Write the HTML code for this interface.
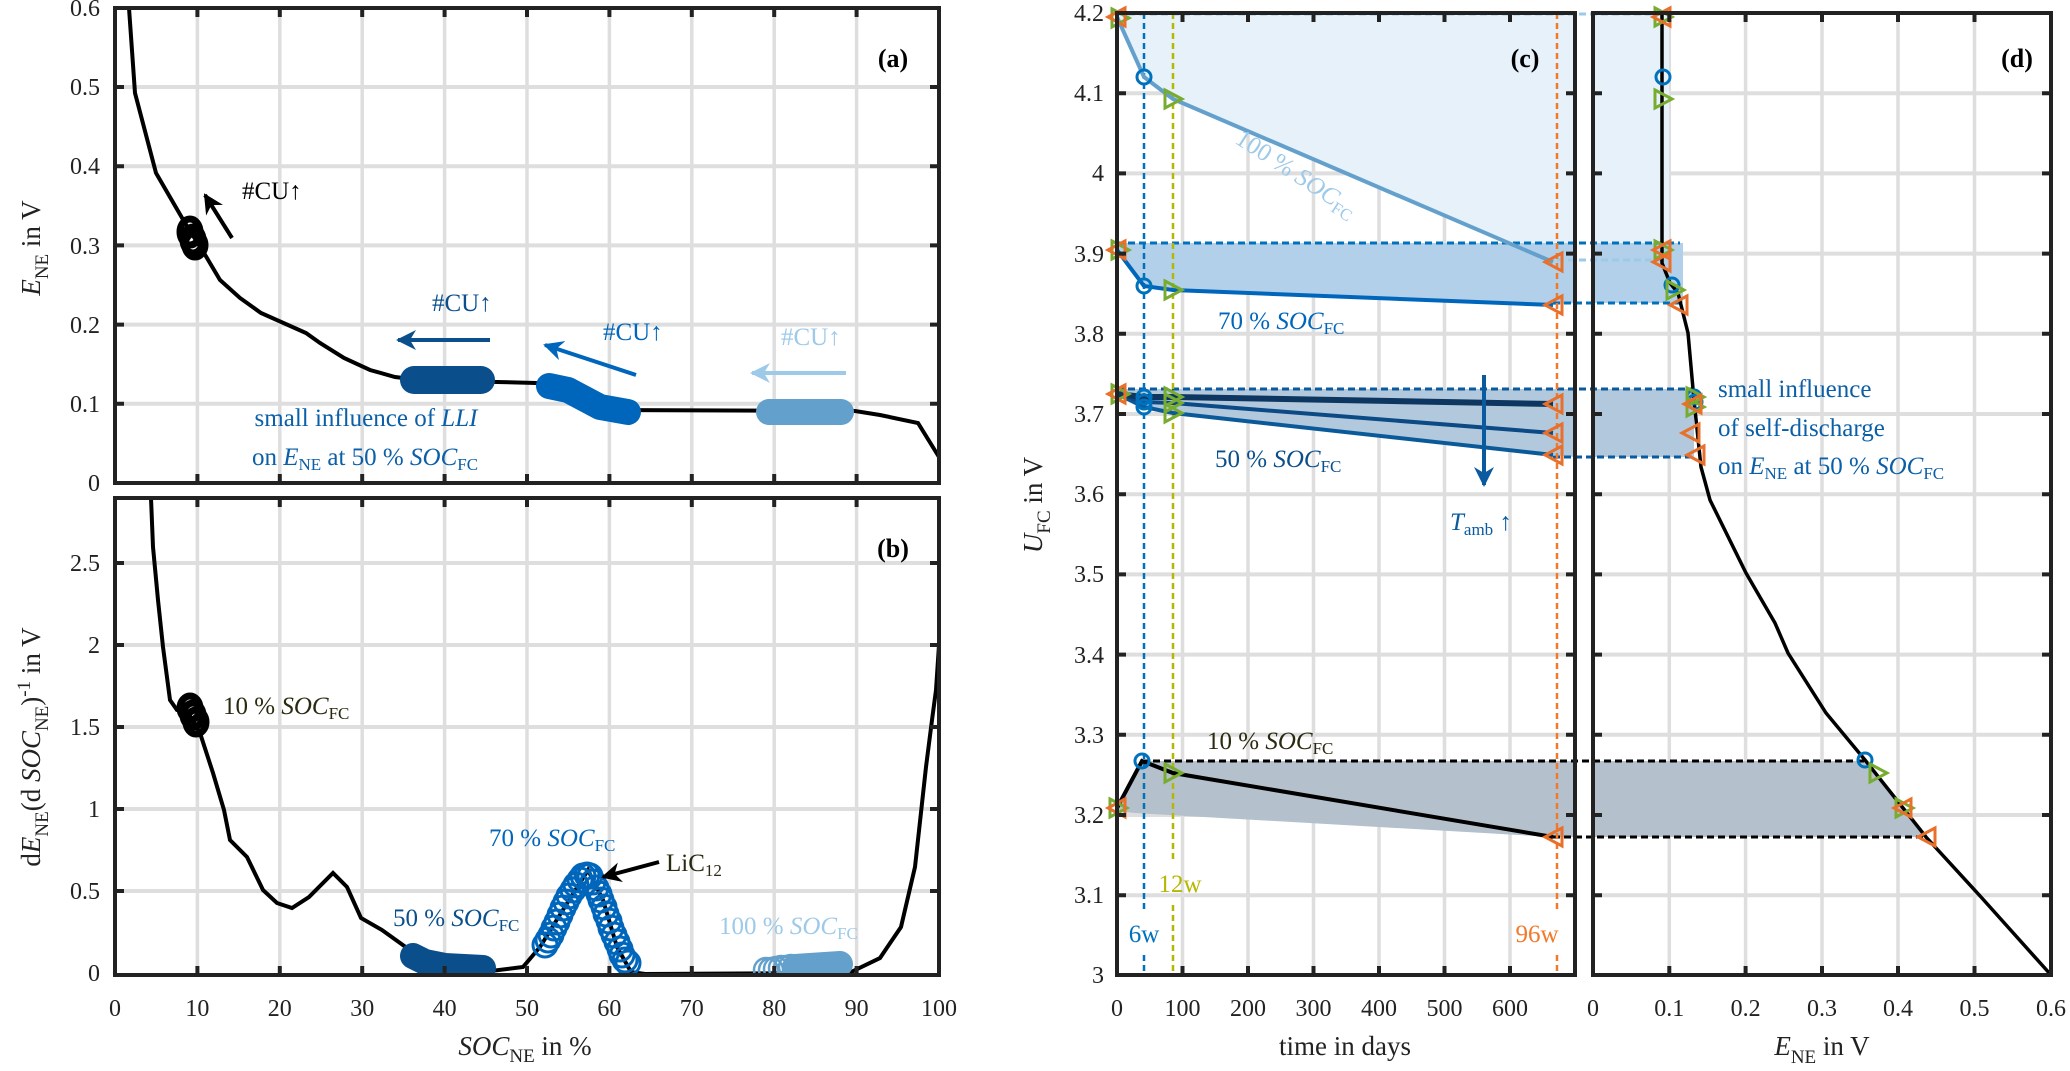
<!DOCTYPE html>
<html><head><meta charset="utf-8"><style>
html,body{margin:0;padding:0;background:#fff;}
svg{display:block;}
text{font-family:"Liberation Serif",serif;}
</style></head><body>
<svg width="2070" height="1071" viewBox="0 0 2070 1071" xmlns="http://www.w3.org/2000/svg">
<defs>
<clipPath id="ca"><rect x="115" y="8" width="824" height="475"/></clipPath>
<clipPath id="cb"><rect x="115" y="498" width="824" height="477"/></clipPath>
<marker id="ah" viewBox="0 0 10 10" refX="9" refY="5" markerWidth="5" markerHeight="5" orient="auto"><path d="M0,0 L10,5 L0,10 L3,5 z" fill="context-stroke"/></marker>
</defs>

<!-- ===== grids ===== -->
<g stroke="#dedede" stroke-width="4">
<path d="M197.4,8V483M279.8,8V483M362.2,8V483M444.6,8V483M527,8V483M609.4,8V483M691.8,8V483M774.2,8V483M856.6,8V483" stroke-width="3.5"/>
<path d="M115,403.8H939M115,324.6H939M115,245.4H939M115,166.2H939M115,87H939"/>
<path d="M197.4,498V975M279.8,498V975M362.2,498V975M444.6,498V975M527,498V975M609.4,498V975M691.8,498V975M774.2,498V975M856.6,498V975" stroke-width="3.5"/>
<path d="M115,891H939M115,809H939M115,727H939M115,645H939M115,563H939"/>
<path d="M1182.5,13V975M1248,13V975M1313.5,13V975M1379,13V975M1444.5,13V975M1510,13V975" stroke-width="3.5"/>
<path d="M1117,93.2H1575M1117,173.4H1575M1117,253.6H1575M1117,333.8H1575M1117,414H1575M1117,494.2H1575M1117,574.4H1575M1117,654.6H1575M1117,734.8H1575M1117,815H1575M1117,895.2H1575"/>
<path d="M1669.3,13V975M1745.6,13V975M1822,13V975M1898,13V975M1974.5,13V975" stroke-width="3.5"/>
<path d="M1593,93.2H2051M1593,173.4H2051M1593,253.6H2051M1593,333.8H2051M1593,414H2051M1593,494.2H2051M1593,574.4H2051M1593,654.6H2051M1593,734.8H2051M1593,815H2051M1593,895.2H2051"/>
</g>

<!-- ===== panel (a) ===== -->
<g clip-path="url(#ca)">
<polyline fill="none" stroke="#000" stroke-width="4" points="129,8 135,93 156,173 185,223 204,253 220,280 240,298 261,313 306,333 320,343 344,358 370,370 395,377 420,380 497,382 536,383 560,390 590,403 612,410 855,411 880,415 918,423 939,457"/>
<g fill="none" stroke="#000" stroke-width="7">
<ellipse cx="190" cy="232" rx="10" ry="13"/><ellipse cx="193" cy="240" rx="10" ry="13"/><ellipse cx="195" cy="245" rx="10" ry="12"/>
</g>
<rect x="400" y="366" width="95" height="28" rx="14" fill="#0a4f8c"/>
<polyline fill="none" stroke="#0066bb" stroke-width="26" stroke-linecap="round" stroke-linejoin="round" points="549,386 568,390 600,407 628,412"/>
<rect x="756" y="399" width="98" height="26" rx="13" fill="#64a0cc"/>
<g fill="none" stroke="#64a0cc" stroke-width="2"><circle cx="770" cy="412" r="12"/><circle cx="776" cy="412" r="12"/><circle cx="782" cy="412" r="12"/></g>
<g stroke-width="4" fill="none">
<line x1="232" y1="238" x2="205" y2="195" stroke="#000" marker-end="url(#ah)"/>
<line x1="490" y1="340" x2="398" y2="340" stroke="#0a4f8c" marker-end="url(#ah)"/>
<line x1="636" y1="375" x2="545" y2="345" stroke="#0066bb" marker-end="url(#ah)"/>
<line x1="846" y1="373" x2="752" y2="373" stroke="#9ecae9" marker-end="url(#ah)"/>
</g>
</g>
<g font-size="25">
<text x="242" y="199" fill="#000">#CU↑</text>
<text x="432" y="311" fill="#0a4f8c">#CU↑</text>
<text x="603" y="340" fill="#0066bb">#CU↑</text>
<text x="781" y="345" fill="#9ecae9">#CU↑</text>
<text x="366" y="426" text-anchor="middle" fill="#0a5fa8">small influence of <tspan font-style="italic">LLI</tspan></text>
<text x="365" y="465" text-anchor="middle" fill="#0a5fa8">on <tspan font-style="italic">E</tspan><tspan font-size="17" dy="5">NE</tspan><tspan dy="-5"> at 50 % </tspan><tspan font-style="italic">SOC</tspan><tspan font-size="17" dy="5">FC</tspan></text>
<text x="893" y="67" text-anchor="middle" font-weight="bold" font-size="26">(a)</text>
</g>

<!-- ===== panel (b) ===== -->
<g clip-path="url(#cb)">
<polyline fill="none" stroke="#000" stroke-width="4" points="151,498 153,547 158,600 163,647 170,700 177,710 188,713 200,733 213,773 224,810 230,840 247,857 263,890 277,903 292,908 309,897 333,873 347,887 361,918 382,930 414,953 449,968 491,971 523,967 540,947 561,913 588,870 603,900 617,947 631,972 645,974 849,973 880,958 901,927 915,867 926,767 932,720 936,690 939,645"/>
<g fill="none" stroke="#000" stroke-width="7">
<ellipse cx="190" cy="708" rx="10" ry="12"/><ellipse cx="193" cy="715" rx="10" ry="12"/><ellipse cx="196" cy="722" rx="10" ry="12"/>
</g>
<polyline fill="none" stroke="#0a4f8c" stroke-width="26" stroke-linecap="round" stroke-linejoin="round" points="413,956 425,962 445,966 483,968"/>
<g fill="none" stroke="#0066bb" stroke-width="3">
<circle cx="545" cy="945" r="12"/><circle cx="548" cy="940" r="12"/><circle cx="551" cy="935" r="12"/><circle cx="554" cy="928" r="12"/><circle cx="557" cy="922" r="12"/><circle cx="560" cy="915" r="12"/><circle cx="563" cy="908" r="12"/><circle cx="566" cy="902" r="12"/><circle cx="569" cy="896" r="12"/><circle cx="573" cy="890" r="12"/><circle cx="576" cy="885" r="12"/><circle cx="580" cy="880" r="12"/><circle cx="583" cy="876" r="12"/><circle cx="587" cy="875" r="12"/><circle cx="590" cy="876" r="12"/><circle cx="593" cy="882" r="12"/><circle cx="596" cy="888" r="12"/><circle cx="599" cy="894" r="12"/><circle cx="601" cy="900" r="12"/><circle cx="604" cy="907" r="12"/><circle cx="606" cy="914" r="12"/><circle cx="609" cy="921" r="12"/><circle cx="611" cy="928" r="12"/><circle cx="614" cy="935" r="12"/><circle cx="617" cy="942" r="12"/><circle cx="620" cy="949" r="12"/><circle cx="622" cy="955" r="12"/><circle cx="625" cy="960" r="12"/><circle cx="628" cy="963" r="12"/>
</g>
<polyline fill="none" stroke="#64a0cc" stroke-width="26" stroke-linecap="round" points="795,967 840,964"/>
<g fill="none" stroke="#64a0cc" stroke-width="2.5">
<circle cx="766" cy="970" r="12"/><circle cx="771" cy="970" r="12"/><circle cx="776" cy="969" r="12"/><circle cx="781" cy="968" r="12"/><circle cx="786" cy="968" r="12"/><circle cx="791" cy="967" r="12"/>
</g>
<line x1="659" y1="862" x2="603" y2="877" stroke="#000" stroke-width="4" marker-end="url(#ah)"/>
</g>
<g font-size="25">
<text x="223" y="714" fill="#2a2a10">10 % <tspan font-style="italic">SOC</tspan><tspan font-size="17" dy="5">FC</tspan></text>
<text x="489" y="846" fill="#0066bb">70 % <tspan font-style="italic">SOC</tspan><tspan font-size="17" dy="5">FC</tspan></text>
<text x="666" y="871" fill="#2a2a10">LiC<tspan font-size="17" dy="5">12</tspan></text>
<text x="393" y="926" fill="#0a4f8c">50 % <tspan font-style="italic">SOC</tspan><tspan font-size="17" dy="5">FC</tspan></text>
<text x="719" y="934" fill="#9ecae9">100 % <tspan font-style="italic">SOC</tspan><tspan font-size="17" dy="5">FC</tspan></text>
<text x="893" y="557" text-anchor="middle" font-weight="bold" font-size="26">(b)</text>
</g>

<!-- ===== panel (c) fills ===== -->
<polygon fill="#e6f1fa" points="1117,13 1575,13 1575,262 1557,262 1173,99 1144,77 1117,17"/>
<rect x="1593" y="13" width="76" height="246" fill="#e6f1fa"/>
<polygon fill="#b3d0ea" points="1117,243 1575,243 1575,303 1553,305 1173,290 1144,286 1117,250"/>
<rect x="1593" y="243" width="90" height="60" fill="#b3d0ea"/>
<polygon fill="#b2c9dd" points="1117,389 1575,389 1575,457 1553,455 1173,413 1144,407 1117,396"/>
<rect x="1593" y="389" width="101" height="68" fill="#b2c9dd"/>
<polygon fill="#b4c1cc" points="1117,808 1142,761 1575,761 1575,837 1553,837 1117,812"/>
<polygon fill="#b4c1cc" points="1593,761 1865,761 1926,837 1593,837"/>

<g fill="none" stroke-width="3" stroke-dasharray="7,4">
<path d="M1117,14H1669" stroke="#9ecae9"/>
<path d="M1557,260H1662" stroke="#9ecae9"/>
<path d="M1117,243H1680M1553,303H1682" stroke="#0072bd"/>
<path d="M1117,389H1694M1553,457H1696" stroke="#0a5aa0"/>
<path d="M1142,761H1865M1553,837H1926" stroke="#000"/>
</g>
<g fill="none" stroke-width="2.5" stroke-dasharray="6,4">
<path d="M1144,13V912M1144,955V975" stroke="#0072bd"/>
<path d="M1173,13V862M1173,905V975" stroke="#b5b800"/>
<path d="M1557,13V912M1557,955V975" stroke="#f07a2a"/>
</g>

<g fill="none" stroke-width="4">
<polyline points="1117,17 1144,77 1173,99 1553,262" stroke="#64a0cc"/>
<polyline points="1117,250 1144,286 1173,290 1553,305" stroke="#0066bb"/>
<polyline points="1117,394 1144,407 1173,413 1553,455" stroke="#0a5a9a"/>
<polyline points="1117,394 1144,402 1173,403 1553,433" stroke="#0b4a85"/>
<polyline points="1117,394 1144,397 1173,397 1553,404" stroke="#0d3760" stroke-width="6"/>
<polyline points="1117,808 1142,761 1173,773 1553,837" stroke="#000"/>
<polyline points="1662,13 1662,263 1670,283 1678,293 1688,333 1694,400 1701,467 1710,500 1746,573 1775,623 1788,653 1826,713 1865,760 1926,837 1981,897 2051,975" stroke="#000" stroke-width="3.5"/>
</g>
<line x1="1484" y1="375" x2="1484" y2="485" stroke="#0a5aa0" stroke-width="4" marker-end="url(#ah)"/>

<g fill="none" stroke-width="3">
<g stroke="#0072bd">
<circle cx="1144" cy="77" r="7"/><circle cx="1144" cy="286" r="7"/><circle cx="1144" cy="397" r="7"/><circle cx="1144" cy="402" r="7"/><circle cx="1144" cy="407" r="7"/><circle cx="1142" cy="761" r="7"/>
<circle cx="1663" cy="77" r="7"/><circle cx="1672" cy="285" r="7"/><circle cx="1694" cy="397" r="7"/><circle cx="1695" cy="402" r="7"/><circle cx="1865" cy="760" r="7"/>
</g>
<g stroke="#77ac30">
<path d="M1165,90 L1182,99 L1165,108Z M1165,281 L1182,290 L1165,299Z M1165,388 L1182,397 L1165,406Z M1165,394 L1182,403 L1165,412Z M1165,404 L1182,413 L1165,422Z M1165,764 L1182,773 L1165,782Z"/>
<path d="M1112,9 L1129,18 L1112,27Z M1112,241 L1129,250 L1112,259Z M1112,385 L1129,394 L1112,403Z M1110,799 L1127,808 L1110,817Z"/>
<path d="M1655,8 L1672,17 L1655,26Z M1655,90 L1672,99 L1655,108Z M1655,241 L1672,250 L1655,259Z M1667,281 L1684,290 L1667,299Z M1687,388 L1704,397 L1687,406Z M1687,398 L1704,407 L1687,416Z M1870,764 L1887,773 L1870,782Z M1896,799 L1913,808 L1896,817Z"/>
</g>
<g stroke="#e8702a">
<path d="M1125,8 L1108,17 L1125,26Z M1125,241 L1108,250 L1125,259Z M1125,385 L1108,394 L1125,403Z M1125,799 L1108,808 L1125,817Z"/>
<path d="M1562,253 L1545,262 L1562,271Z M1562,296 L1545,305 L1562,314Z M1562,395 L1545,404 L1562,413Z M1562,424 L1545,433 L1562,442Z M1562,446 L1545,455 L1562,464Z M1562,828 L1545,837 L1562,846Z"/>
<path d="M1670,8 L1653,17 L1670,26Z M1670,241 L1653,250 L1670,259Z M1670,253 L1653,262 L1670,271Z M1687,296 L1670,305 L1687,314Z M1701,395 L1684,404 L1701,413Z M1699,424 L1682,433 L1699,442Z M1704,446 L1687,455 L1704,464Z M1911,799 L1894,808 L1911,817Z M1935,828 L1918,837 L1935,846Z"/>
</g>
</g>

<g font-size="25">
<text transform="translate(1292,180) rotate(33)" text-anchor="middle" fill="#9ecae9">100 % <tspan font-style="italic">SOC</tspan><tspan font-size="17" dy="5">FC</tspan></text>
<text x="1218" y="329" fill="#0066bb">70 % <tspan font-style="italic">SOC</tspan><tspan font-size="17" dy="5">FC</tspan></text>
<text x="1215" y="467" fill="#0a4f8c">50 % <tspan font-style="italic">SOC</tspan><tspan font-size="17" dy="5">FC</tspan></text>
<text x="1207" y="749" fill="#2a2a10">10 % <tspan font-style="italic">SOC</tspan><tspan font-size="17" dy="5">FC</tspan></text>
<text x="1450" y="530" fill="#0a5aa0"><tspan font-style="italic">T</tspan><tspan font-size="17" dy="5">amb</tspan><tspan dy="-5"> ↑</tspan></text>
<text x="1144" y="942" text-anchor="middle" fill="#0072bd">6w</text>
<text x="1180" y="892" text-anchor="middle" fill="#b5b800">12w</text>
<text x="1537" y="942" text-anchor="middle" fill="#f07a2a">96w</text>
<text x="1525" y="67" text-anchor="middle" font-weight="bold" font-size="26">(c)</text>
<text x="2017" y="67" text-anchor="middle" font-weight="bold" font-size="26">(d)</text>
<text x="1718" y="397" fill="#0a5fa8">small influence</text>
<text x="1718" y="436" fill="#0a5fa8">of self-discharge</text>
<text x="1718" y="474" fill="#0a5fa8">on <tspan font-style="italic">E</tspan><tspan font-size="17" dy="5">NE</tspan><tspan dy="-5"> at 50 % </tspan><tspan font-style="italic">SOC</tspan><tspan font-size="17" dy="5">FC</tspan></text>
</g>

<g fill="none" stroke="#222" stroke-width="4">
<rect x="115" y="8" width="824" height="475"/>
<rect x="115" y="498" width="824" height="477"/>
<rect x="1117" y="13" width="458" height="962"/>
<rect x="1593" y="13" width="458" height="962"/>
<path d="M197.4,483v-9M279.8,483v-9M362.2,483v-9M444.6,483v-9M527,483v-9M609.4,483v-9M691.8,483v-9M774.2,483v-9M856.6,483v-9
M197.4,8v9M279.8,8v9M362.2,8v9M444.6,8v9M527,8v9M609.4,8v9M691.8,8v9M774.2,8v9M856.6,8v9
M197.4,975v-9M279.8,975v-9M362.2,975v-9M444.6,975v-9M527,975v-9M609.4,975v-9M691.8,975v-9M774.2,975v-9M856.6,975v-9
M197.4,498v9M279.8,498v9M362.2,498v9M444.6,498v9M527,498v9M609.4,498v9M691.8,498v9M774.2,498v9M856.6,498v9"/>
<path d="M115,403.8h9M115,324.6h9M115,245.4h9M115,166.2h9M115,87h9M939,403.8h-9M939,324.6h-9M939,245.4h-9M939,166.2h-9M939,87h-9
M115,891h9M115,809h9M115,727h9M115,645h9M115,563h9M939,891h-9M939,809h-9M939,727h-9M939,645h-9M939,563h-9"/>
<path d="M1182.5,975v-9M1248,975v-9M1313.5,975v-9M1379,975v-9M1444.5,975v-9M1510,975v-9M1182.5,13v9M1248,13v9M1313.5,13v9M1379,13v9M1444.5,13v9M1510,13v9
M1669.3,975v-9M1745.6,975v-9M1822,975v-9M1898,975v-9M1974.5,975v-9M1669.3,13v9M1745.6,13v9M1822,13v9M1898,13v9M1974.5,13v9"/>
<path d="M1117,93.2h9M1117,173.4h9M1117,253.6h9M1117,333.8h9M1117,414h9M1117,494.2h9M1117,574.4h9M1117,654.6h9M1117,734.8h9M1117,815h9M1117,895.2h9
M1575,93.2h-9M1575,173.4h-9M1575,253.6h-9M1575,333.8h-9M1575,414h-9M1575,494.2h-9M1575,574.4h-9M1575,654.6h-9M1575,734.8h-9M1575,815h-9M1575,895.2h-9
M1593,93.2h9M1593,173.4h9M1593,253.6h9M1593,333.8h9M1593,414h9M1593,494.2h9M1593,574.4h9M1593,654.6h9M1593,734.8h9M1593,815h9M1593,895.2h9
M2051,93.2h-9M2051,173.4h-9M2051,253.6h-9M2051,333.8h-9M2051,414h-9M2051,494.2h-9M2051,574.4h-9M2051,654.6h-9M2051,734.8h-9M2051,815h-9M2051,895.2h-9"/>
</g>

<g font-size="24" fill="#222" text-anchor="end">
<text x="100" y="16">0.6</text><text x="100" y="95">0.5</text><text x="100" y="174">0.4</text><text x="100" y="254">0.3</text><text x="100" y="333">0.2</text><text x="100" y="412">0.1</text><text x="100" y="491">0</text>
<text x="100" y="571">2.5</text><text x="100" y="653">2</text><text x="100" y="735">1.5</text><text x="100" y="817">1</text><text x="100" y="899">0.5</text><text x="100" y="981">0</text>
<text x="1104" y="21">4.2</text><text x="1104" y="101">4.1</text><text x="1104" y="181">4</text><text x="1104" y="262">3.9</text><text x="1104" y="342">3.8</text><text x="1104" y="422">3.7</text><text x="1104" y="502">3.6</text><text x="1104" y="582">3.5</text><text x="1104" y="663">3.4</text><text x="1104" y="743">3.3</text><text x="1104" y="823">3.2</text><text x="1104" y="903">3.1</text><text x="1104" y="983">3</text>
</g>
<g font-size="24" fill="#222" text-anchor="middle">
<text x="115" y="1016">0</text><text x="197.4" y="1016">10</text><text x="279.8" y="1016">20</text><text x="362.2" y="1016">30</text><text x="444.6" y="1016">40</text><text x="527" y="1016">50</text><text x="609.4" y="1016">60</text><text x="691.8" y="1016">70</text><text x="774.2" y="1016">80</text><text x="856.6" y="1016">90</text><text x="939" y="1016">100</text>
<text x="1117" y="1016">0</text><text x="1182.5" y="1016">100</text><text x="1248" y="1016">200</text><text x="1313.5" y="1016">300</text><text x="1379" y="1016">400</text><text x="1444.5" y="1016">500</text><text x="1510" y="1016">600</text>
<text x="1593" y="1016">0</text><text x="1669.3" y="1016">0.1</text><text x="1745.6" y="1016">0.2</text><text x="1822" y="1016">0.3</text><text x="1898" y="1016">0.4</text><text x="1974.5" y="1016">0.5</text><text x="2051" y="1016">0.6</text>
</g>

<g font-size="27" fill="#222">
<text x="525" y="1055" text-anchor="middle"><tspan font-style="italic">SOC</tspan><tspan font-size="19" dy="7">NE</tspan><tspan dy="-7"> in %</tspan></text>
<text x="1345" y="1055" text-anchor="middle">time in days</text>
<text x="1822" y="1055" text-anchor="middle"><tspan font-style="italic">E</tspan><tspan font-size="19" dy="8">NE</tspan><tspan dy="-8"> in V</tspan></text>
<text transform="translate(40,248) rotate(-90)" text-anchor="middle"><tspan font-style="italic">E</tspan><tspan font-size="19" dy="8">NE</tspan><tspan dy="-8"> in V</tspan></text>
<text transform="translate(40,747) rotate(-90)" text-anchor="middle">d<tspan font-style="italic">E</tspan><tspan font-size="19" dy="8">NE</tspan><tspan dy="-8">(d </tspan><tspan font-style="italic">SOC</tspan><tspan font-size="19" dy="8">NE</tspan><tspan dy="-8">)</tspan><tspan font-size="19" dy="-10">-1</tspan><tspan dy="10"> in V</tspan></text>
<text transform="translate(1042,505) rotate(-90)" text-anchor="middle"><tspan font-style="italic">U</tspan><tspan font-size="19" dy="8">FC</tspan><tspan dy="-8"> in V</tspan></text>
</g>
</svg>
</body></html>
